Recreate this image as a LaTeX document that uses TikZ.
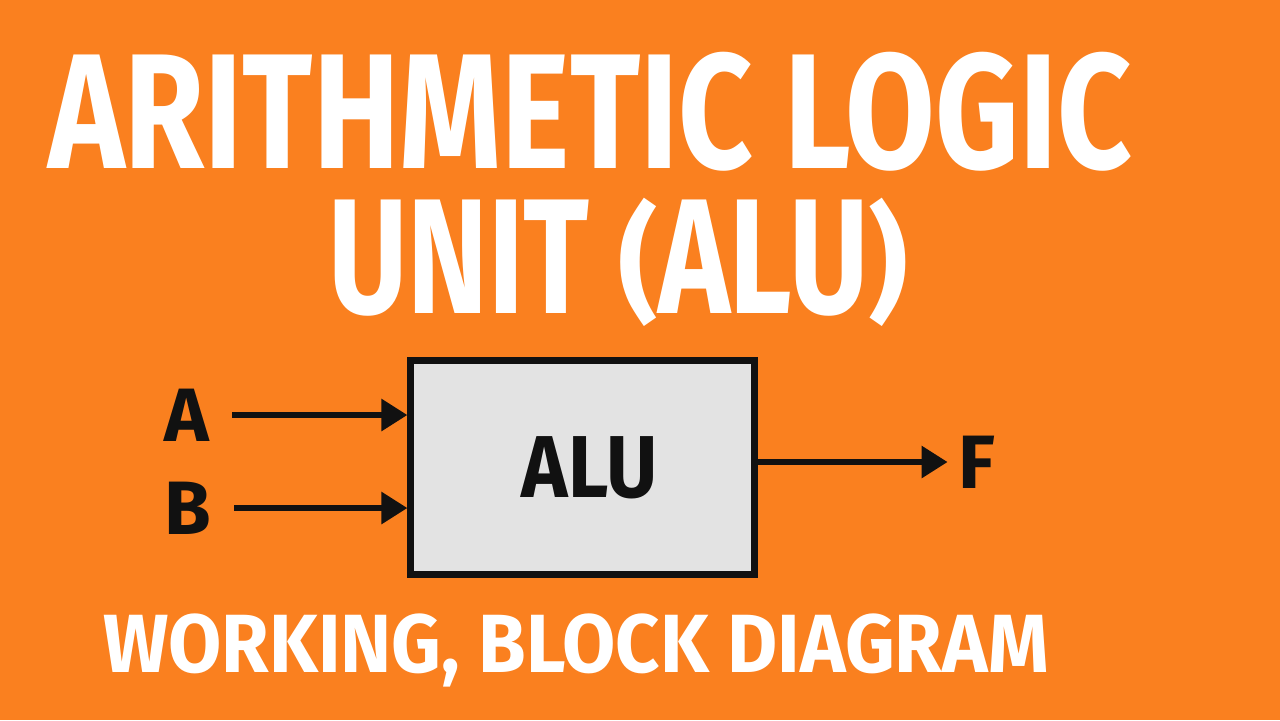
\documentclass[tikz,border=0pt]{standalone}
\usepackage{fontspec}
\setmainfont{Fira Sans}
\usepackage{graphicx}
\usepackage{xcolor}
\usetikzlibrary{arrows.meta}
\usetikzlibrary{calc}

\definecolor{bgorange}{RGB}{250,128,31}
\definecolor{boxgray}{RGB}{227,227,227}
\definecolor{inkblack}{RGB}{17,17,17}
\newcommand{\shortparen}[1]{\raisebox{0.065cm}{\scalebox{1}[0.77]{#1}}}

\begin{document}
\begin{tikzpicture}[x=0.01cm,y=-0.01cm]
            \fill[bgorange] (0,0) rectangle (1280,720);
            \begin{scope}[-{Triangle[length=0.26cm,width=0.31cm]},line width=0.06cm,draw=inkblack,
              title node/.style={text=white,inner sep=0pt,anchor=base west,font=\bfseries\fontsize{46.6}{50}\selectfont},
              main node/.style={rectangle,draw=inkblack,fill=boxgray,line width=0.07cm,minimum width=3.43cm,minimum height=2.13cm,text=inkblack,font=\bfseries\fontsize{25}{30}\selectfont},
              pin node/.style={text=inkblack,inner ysep=0pt,font=\bfseries\fontsize{21.5}{26}\selectfont}]
            \node[title node] (title1) at (45,168) {\resizebox{10.83cm}{\height}{ARITHMETIC LOGIC}};
            \node[title node] (title2) at (325,313) {\resizebox{5.80cm}{\height}{UNIT \shortparen{(}ALU\shortparen{)}}};
            \node[main node] (alu) at (582.5,467.5) {\hspace*{0.15cm}\raisebox{-0.07cm}{\resizebox{1.36cm}{\height}{ALU}}};
            \node[pin node,inner xsep=0.2cm] (A) at (187,415) {A};
            \node[pin node,inner xsep=0.2cm] (B) at (188,508) {B};
            \node[pin node,inner xsep=0.08cm] (F) at (977,462) {F};
            \node[title node,font=\bfseries\fontsize{23.5}{28}\selectfont] (sub) at (100,672) {\resizebox{9.45cm}{\height}{WORKING, BLOCK DIAGRAM}};
            \path
            (A) edge (A -| alu.west)
            (B) edge (B -| alu.west)
            (alu.east |- F) edge (F);
            \end{scope}
        \end{tikzpicture}
\end{document}
